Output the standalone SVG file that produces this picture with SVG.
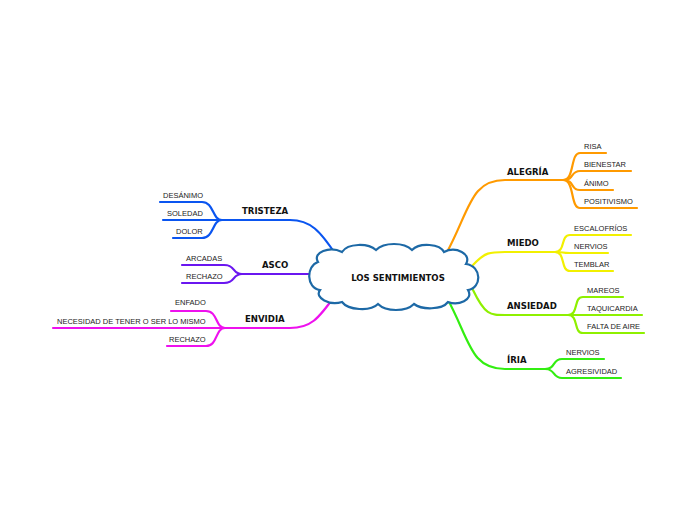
<svg xmlns="http://www.w3.org/2000/svg" width="697" height="520" viewBox="0 0 697 520">
<style>
.c{fill:none;stroke-width:2.2;stroke-linecap:round}
.m{font-family:"DejaVu Sans Condensed","DejaVu Sans",sans-serif;font-weight:bold;font-size:9.5px;fill:#111}
.s{font-family:"Liberation Sans",Arial,sans-serif;font-size:7.5px;fill:#222}
</style>
<rect width="697" height="520" fill="#fff"/>
<g id="connectors">
<g stroke="#ff9a00" class="c"><path d="M446,254 C470,210 470,180 505,180 H563"/><path d="M563,180 C575,180 570,153 580,153 H606"/><path d="M563,180 C575,180 570,171 580,171 H631"/><path d="M563,180 C575,180 570,190 580,190 H613"/><path d="M563,180 C575,180 570,208 580,208 H637"/></g>
<g stroke="#f2f000" class="c"><path d="M473,265 C485,252 490,252 505,252 H555"/><path d="M555,252 C566,252 560,235 570,235 H631"/><path d="M555,252 C566,252 560,253 570,253 H608"/><path d="M555,252 C566,252 560,271 570,271 H613"/></g>
<g stroke="#8ef000" class="c"><path d="M473,290 C485,315 490,315 505,315 H568"/><path d="M568,315 C579,315 573,297 583,297 H623"/><path d="M568,315 C579,315 573,315 583,315 H642"/><path d="M568,315 C579,315 573,333 583,333 H644"/></g>
<g stroke="#33ee11" class="c"><path d="M447,298 C470,340 470,369 505,369 H545"/><path d="M545,369 C556,369 552,359 562,359 H604"/><path d="M545,369 C556,369 552,378 562,378 H621"/></g>
<g stroke="#0a55f0" class="c"><path d="M338,258 C320,230 310,220 290,220 H222"/><path d="M222,220 C212,220 214,202 202,202 H160"/><path d="M222,220 H163"/><path d="M222,220 C212,220 214,238 202,238 H173"/></g>
<g stroke="#6a16f0" class="c"><path d="M310,274 H242"/><path d="M242,274 C232,274 236,265 224,265 H182"/><path d="M242,274 C232,274 236,283 224,283 H182"/></g>
<g stroke="#ee11ee" class="c"><path d="M336,294 C318,320 310,328 290,328 H225"/><path d="M225,328 C215,328 218,311 206,311 H171"/><path d="M225,328 H53"/><path d="M225,328 C215,328 218,346 206,346 H167"/></g>
</g>
<g id="center">
<path d="M318,262 C312,252 330,246 342,252 C348,243 368,243 376,250 C384,242 404,242 412,250 C420,242 440,244 444,252 C456,246 472,254 466,264 C482,266 482,288 468,290 C474,300 458,306 448,302 C442,310 422,310 414,304 C406,312 386,312 378,304 C370,312 348,310 342,302 C330,306 314,298 320,290 C306,288 306,266 318,262 Z" fill="#fff" stroke="#1d69a6" stroke-width="2.2"/>
<text x="398" y="281" class="m" font-size="12" text-anchor="middle">LOS SENTIMIENTOS</text>
</g>
<g id="alegria"><text x="507" y="175" class="m">ALEGRÍA</text><text x="584" y="149" class="s">RISA</text><text x="584" y="167" class="s">BIENESTAR</text><text x="584" y="186" class="s">ÁNIMO</text><text x="584" y="204" class="s">POSITIVISMO</text></g>
<g id="miedo"><text x="507" y="246" class="m">MIEDO</text><text x="574" y="231" class="s">ESCALOFRÍOS</text><text x="574" y="249" class="s">NERVIOS</text><text x="574" y="267" class="s">TEMBLAR</text></g>
<g id="ansiedad"><text x="507" y="309" class="m">ANSIEDAD</text><text x="587" y="293" class="s">MAREOS</text><text x="587" y="311" class="s">TAQUICARDIA</text><text x="587" y="329" class="s">FALTA DE AIRE</text></g>
<g id="iria"><text x="507" y="363" class="m">ÍRIA</text><text x="566" y="355" class="s">NERVIOS</text><text x="566" y="374" class="s">AGRESIVIDAD</text></g>
<g id="tristeza"><text x="242" y="214" class="m">TRISTEZA</text><text x="163" y="198" class="s">DESÁNIMO</text><text x="167" y="216" class="s">SOLEDAD</text><text x="176" y="234" class="s">DOLOR</text></g>
<g id="asco"><text x="262" y="268" class="m">ASCO</text><text x="186" y="261" class="s">ARCADAS</text><text x="186" y="279" class="s">RECHAZO</text></g>
<g id="envidia"><text x="245" y="322" class="m">ENVIDIA</text><text x="175" y="305" class="s">ENFADO</text><text x="57" y="324" class="s">NECESIDAD DE TENER O SER LO MISMO</text><text x="169" y="342" class="s">RECHAZO</text></g>
</svg>
